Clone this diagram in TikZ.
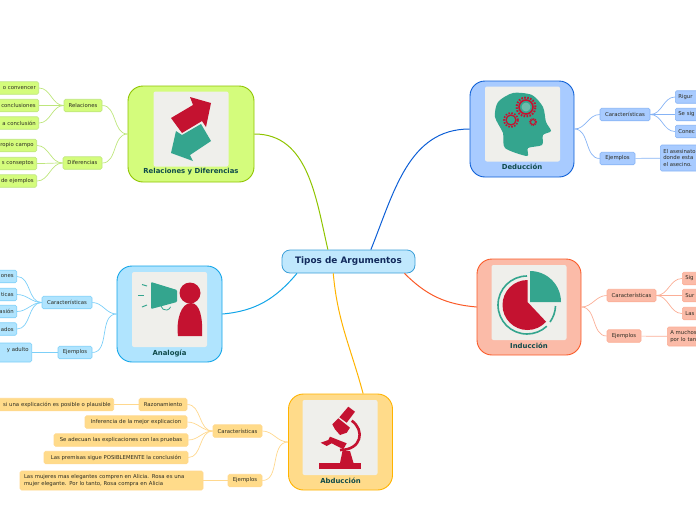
\documentclass[tikz,border=0pt]{standalone}
\usepackage{fontspec}
\setmainfont{DejaVu Sans}
\usepackage{xcolor}
\usetikzlibrary{positioning,calc}
\definecolor{ink1}{HTML}{0F4A4A}
\definecolor{inkroot}{HTML}{122A5C}
\definecolor{leaftext}{HTML}{2C2C22}
\definecolor{panel1}{HTML}{EFEFEB}
\definecolor{teal1}{HTML}{34A58E}
\definecolor{red1}{HTML}{C41230}
\definecolor{limeF}{HTML}{D4FC7C}
\definecolor{limeD}{HTML}{8FC400}
\definecolor{limeL}{HTML}{BEE67C}
\definecolor{blueF}{HTML}{A8CBFF}
\definecolor{blueD}{HTML}{0D5FD6}
\definecolor{blueL}{HTML}{86B3F5}
\definecolor{skyF}{HTML}{B0E4FE}
\definecolor{skyD}{HTML}{12A5E8}
\definecolor{skyL}{HTML}{7CCFF8}
\definecolor{amberF}{HTML}{FFDB8A}
\definecolor{amberD}{HTML}{FFB300}
\definecolor{amberL}{HTML}{FFD88E}
\definecolor{salmonF}{HTML}{FBBBA8}
\definecolor{salmonD}{HTML}{FA5A28}
\definecolor{salmonL}{HTML}{FBAE96}
\definecolor{rootF}{HTML}{C0E8FD}
\definecolor{rootD}{HTML}{3C9FD8}

\begin{document}
\begin{tikzpicture}[
    x=1pt, y=-1pt,
    main/.style={draw, rounded corners=15pt, line width=0.9pt,
                 minimum width=104pt, minimum height=96pt},
    pic1/.style={fill=panel1, rounded corners=2pt, minimum width=75pt,
                 minimum height=75pt, inner sep=0pt},
    title/.style={font=\bfseries\fontsize{6.9}{8}\selectfont, text=ink1,
                  inner sep=0pt},
    sub/.style={draw, rounded corners=1.5pt, line width=0.6pt,
                font=\fontsize{5.35}{6.5}\selectfont, text=leaftext,
                minimum height=12.5pt, inner sep=1pt},
    cutl/.style={sub, anchor=east, text width=62pt, align=right, inner xsep=3pt},
    cutr/.style={sub, anchor=west, text width=62pt, align=left, inner xsep=3pt},
    lime/.style={fill=limeF, draw=limeL},
    blue1/.style={fill=blueF, draw=blueL},
    sky/.style={fill=skyF, draw=skyL},
    amber/.style={fill=amberF, draw=amberL},
    salmon/.style={fill=salmonF, draw=salmonL},
    link/.style={line width=0.7pt},
    gear/.style={draw=red1, dash pattern=on 1.6pt off 1.4pt},
]
\useasboundingbox (0,0) rectangle (696,520);

% centre
\node[draw=rootD, fill=rootF, rounded corners=8pt, line width=0.8pt,
      minimum width=133pt, minimum height=23pt, text=inkroot,
      font=\bfseries\fontsize{8.9}{10}\selectfont]
    (root) at (348.5,261.5) {Tipos de Argumentos};

% main boxes
\node[main, minimum width=126pt, fill=limeF, draw=limeD] (rel) at (191,134) {};
\node[main, minimum width=105pt, fill=skyF, draw=skyD] (ana) at (169.5,314) {};
\node[main, fill=amberF, draw=amberD] (abd) at (340.5,442) {};
\node[main, fill=blueF, draw=blueD] (ded) at (522,129) {};
\node[main, fill=salmonF, draw=salmonD] (ind) at (529,307) {};

\node[pic1] (relp) at (191,129) {};
\node[pic1] (anap) at (169.5,309.5) {};
\node[pic1] (abdp) at (340,437.5) {};
\node[pic1] (dedp) at (522.5,124) {};
\node[pic1] (indp) at (529,302.5) {};

\node[title] (relt) at (191,172) {Relaciones y Diferencias};
\node[title] (anat) at (169.5,353) {Analogía};
\node[title] (abdt) at (340.5,481) {Abducción};
\node[title] (dedt) at (522,167) {Deducción};
\node[title] (indt) at (529,346) {Inducción};

\draw[link, line width=1pt, limeD] (root.150) to[out=103,in=0] (rel.east);
\draw[link, line width=1pt, blueD] (root.28) to[out=68,in=180] (ded.west);
\draw[link, line width=1pt, skyD] (root.193) to[out=230,in=5] (ana.east);
\draw[link, line width=1pt, salmonD] (root.348) to[out=-45,in=175] (ind.west);
\draw[link, line width=1pt, amberD] (root.218) to[out=-85,in=105] (abd.65);

% Relaciones y Diferencias
\node[sub, lime, minimum width=38pt] (relc) at (83,105.5) {Relaciones};
\node[sub, lime, minimum width=39pt] (dif) at (82.5,163) {Diferencias};
\node[cutl, lime] (rl1) at (39,88) {o convencer};
\node[cutl, lime] (rl2) at (39,105.5) {conclusiones};
\node[cutl, lime] (rl3) at (39,123) {a conclusión};
\node[cutl, lime] (dl1) at (37,145.5) {ropio campo};
\node[cutl, lime] (dl2) at (37,163.5) {s conseptos};
\node[cutl, lime] (dl3) at (37,181) {de ejemplos};
\foreach \n in {relc,dif}
    \draw[link, limeL] (rel.west) to[out=180,in=0] (\n.east);
\foreach \n in {rl1,rl2,rl3}
    \draw[link, limeL] (relc.west) to[out=180,in=0] (\n.east);
\foreach \n in {dl1,dl2,dl3}
    \draw[link, limeL] (dif.west) to[out=180,in=0] (\n.east);

% Analogia
\node[sub, sky, minimum width=50pt] (anac) at (67,302.5) {Características};
\node[sub, sky, minimum width=34pt] (anae) at (75,352.5) {Ejemplos};
\node[cutl, sky] (al1) at (17,276.5) {ones};
\node[cutl, sky] (al2) at (17,294.5) {ticas};
\node[cutl, sky] (al3) at (17,311.5) {asión};
\node[cutl, sky] (al4) at (17,329) {ados};
\node[cutl, sky, minimum height=19pt] (al5) at (32,352.5) {y adulto\\\mbox{}};
\foreach \n in {anac,anae}
    \draw[link, skyL] (ana.west) to[out=180,in=0] (\n.east);
\foreach \n in {al1,al2,al3,al4}
    \draw[link, skyL] (anac.west) to[out=180,in=0] (\n.east);
\draw[link, skyL] (anae) -- (al5);

% Abduccion
\node[sub, amber, minimum width=49pt] (abdc) at (237.5,431) {Características};
\node[sub, amber, minimum width=34pt] (abde) at (245,480.5) {Ejemplos};
\node[sub, amber, minimum width=48pt] (raz) at (163,404.5) {Razonamiento};
\node[cutl, amber, text width=122pt] (raz1) at (114,404.5)
    {si una explicación es posible o plausible};
\node[sub, amber, minimum width=102pt] (inf) at (136,422)
    {Inferencia de la mejor explicacion};
\node[sub, amber, minimum width=134pt] (ade) at (121,440)
    {Se adecuan las explicaciones con las pruebas};
\node[sub, amber, minimum width=144pt] (pre) at (116,457.5)
    {Las premisas sigue POSIBLEMENTE la conclusión};
\node[sub, amber, text width=175pt, inner xsep=4pt, minimum height=19pt, align=left]
    (muj) at (111.5,480.5)
    {Las mujeres mas elegantes compren en Alicia. Rosa es una\\
     mujer elegante. Por lo tanto, Rosa compra en Alicia};
\foreach \n in {abdc,abde}
    \draw[link, amberL] (abd.west) to[out=180,in=0] (\n.east);
\foreach \n in {raz,inf,ade,pre}
    \draw[link, amberL] (abdc.west) to[out=180,in=0] (\n.east);
\draw[link, amberL] (raz) -- (raz1);
\draw[link, amberL] (abde) -- (muj);

% Deduccion
\node[sub, blue1, minimum width=50pt] (dedc) at (625,114.5) {Características};
\node[sub, blue1, minimum width=35pt] (dede) at (617.5,158.5) {Ejemplos};
\node[cutr, blue1] (de1) at (675,97) {Rigur};
\node[cutr, blue1] (de2) at (675,114.5) {Se sig};
\node[cutr, blue1] (de3) at (675,131.5) {Conec};
\node[cutr, blue1, minimum height=26pt] (de4) at (660,158)
    {El asesinato\\donde esta\\el asecino.};
\foreach \n in {dedc,dede}
    \draw[link, blueL] (ded.east) to[out=0,in=180] (\n.west);
\foreach \n in {de1,de2,de3}
    \draw[link, blueL] (dedc.east) to[out=0,in=180] (\n.west);
\draw[link, blueL] (dede) -- (de4);

% Induccion
\node[sub, salmon, minimum width=49pt] (indc) at (631.5,295.5) {Características};
\node[sub, salmon, minimum width=34pt] (inde) at (624,336) {Ejemplos};
\node[cutr, salmon] (in1) at (682,278.5) {Sig};
\node[cutr, salmon] (in2) at (682,295.5) {Sur};
\node[cutr, salmon] (in3) at (682,313.5) {Las};
\node[cutr, salmon, minimum height=19pt] (in4) at (667,336.5)
    {A muchos\\por lo tan};
\foreach \n in {indc,inde}
    \draw[link, salmonL] (ind.east) to[out=0,in=180] (\n.west);
\foreach \n in {in1,in2,in3}
    \draw[link, salmonL] (indc.east) to[out=0,in=180] (\n.west);
\draw[link, salmonL] (inde) -- (in4);

% icon: arrows
\fill[red1] (171,118) -- (182,133) -- (202,121) -- (206,127) -- (211,103)
    -- (190,97) -- (193,105) -- cycle;
\fill[teal1] (171,153) -- (176,131) -- (182,135) -- (201,124) -- (211,141)
    -- (190,155) -- (193,161) -- cycle;

% icon: megaphone
\fill[teal1, rounded corners=1pt] (151,282) -- (177,290) -- (177,302) -- (151,309) -- cycle;
\draw[teal1, line width=0.8pt] (161,306) arc[start angle=190, end angle=340, radius=5pt];
\draw[teal1, line width=1pt] (142,284.5) -- (147,286);
\draw[teal1, line width=1pt] (138,295.5) -- (144,295.5);
\draw[teal1, line width=1pt] (142,307) -- (147,305);
\fill[red1] (190,293) circle[radius=10.5pt];
\fill[red1] (178,336) .. controls (176,320) and (181,303) .. (191,303)
    .. controls (200,303) and (203,318) .. (202,336) -- cycle;

% icon: head with gears
\fill[teal1] plot[smooth cycle, tension=0.45] coordinates {(505,148) (503,133)
    (495,117) (498,102) (513,93) (532,95) (543,107) (546,122) (551,131)
    (543,135) (542,145) (528,148) (527,156)};
\draw[gear, line width=2pt] (526,107) circle[radius=9.5pt];
\draw[red1, line width=1.6pt] (526,107) circle[radius=7pt];
\fill[teal1!70!panel1] (526,107) circle[radius=4.5pt];
\draw[gear, line width=1.6pt] (511,120) circle[radius=7pt];
\draw[red1, line width=1.3pt] (511,120) circle[radius=5pt];
\draw[red1, line width=1pt] (533,122) circle[radius=2.5pt];
\draw[gear, line width=1pt, dash pattern=on 1pt off 1pt] (533,122) circle[radius=3.5pt];

% icon: pie
\fill[teal1] (530,302) -- (530,271) arc[start angle=90, end angle=0, radius=31pt] -- cycle;
\fill[red1] (527.5,302) -- (527.5,280) arc[start angle=90, end angle=318, radius=25pt] -- cycle;
\draw[teal1, line width=1.6pt] (527,276) arc[start angle=90, end angle=313, radius=29pt];
\draw[teal1, line width=1.6pt] (555.5,306) arc[start angle=-2, end angle=-36, radius=29pt];

% icon: microscope
\fill[red1] (319,463) rectangle (361,469);
\fill[red1] (340,463) -- (342.5,451) -- (350,451) -- (353.5,463) -- cycle;
\draw[red1, line width=2.6pt] (351.7,420.7) .. controls (365,430) and (362,450) .. (340,450);
\fill[red1] (348.3,406.7) -- (355,411.7) -- (346.7,422.7) -- (339.3,417.3) -- cycle;
\fill[red1] (332.3,424.3) -- (338.3,418.3) -- (350,427.7) -- (346.7,432.7) -- (340,435)
    -- (335,429.3) -- cycle;
\fill[red1] (320.7,442.7) -- (328.3,440) -- (330,436.7) -- (346.7,443.3) -- (343.3,449.3)
    -- (331.7,443.3) -- (326.7,446) -- cycle;
\end{tikzpicture}
\end{document}
